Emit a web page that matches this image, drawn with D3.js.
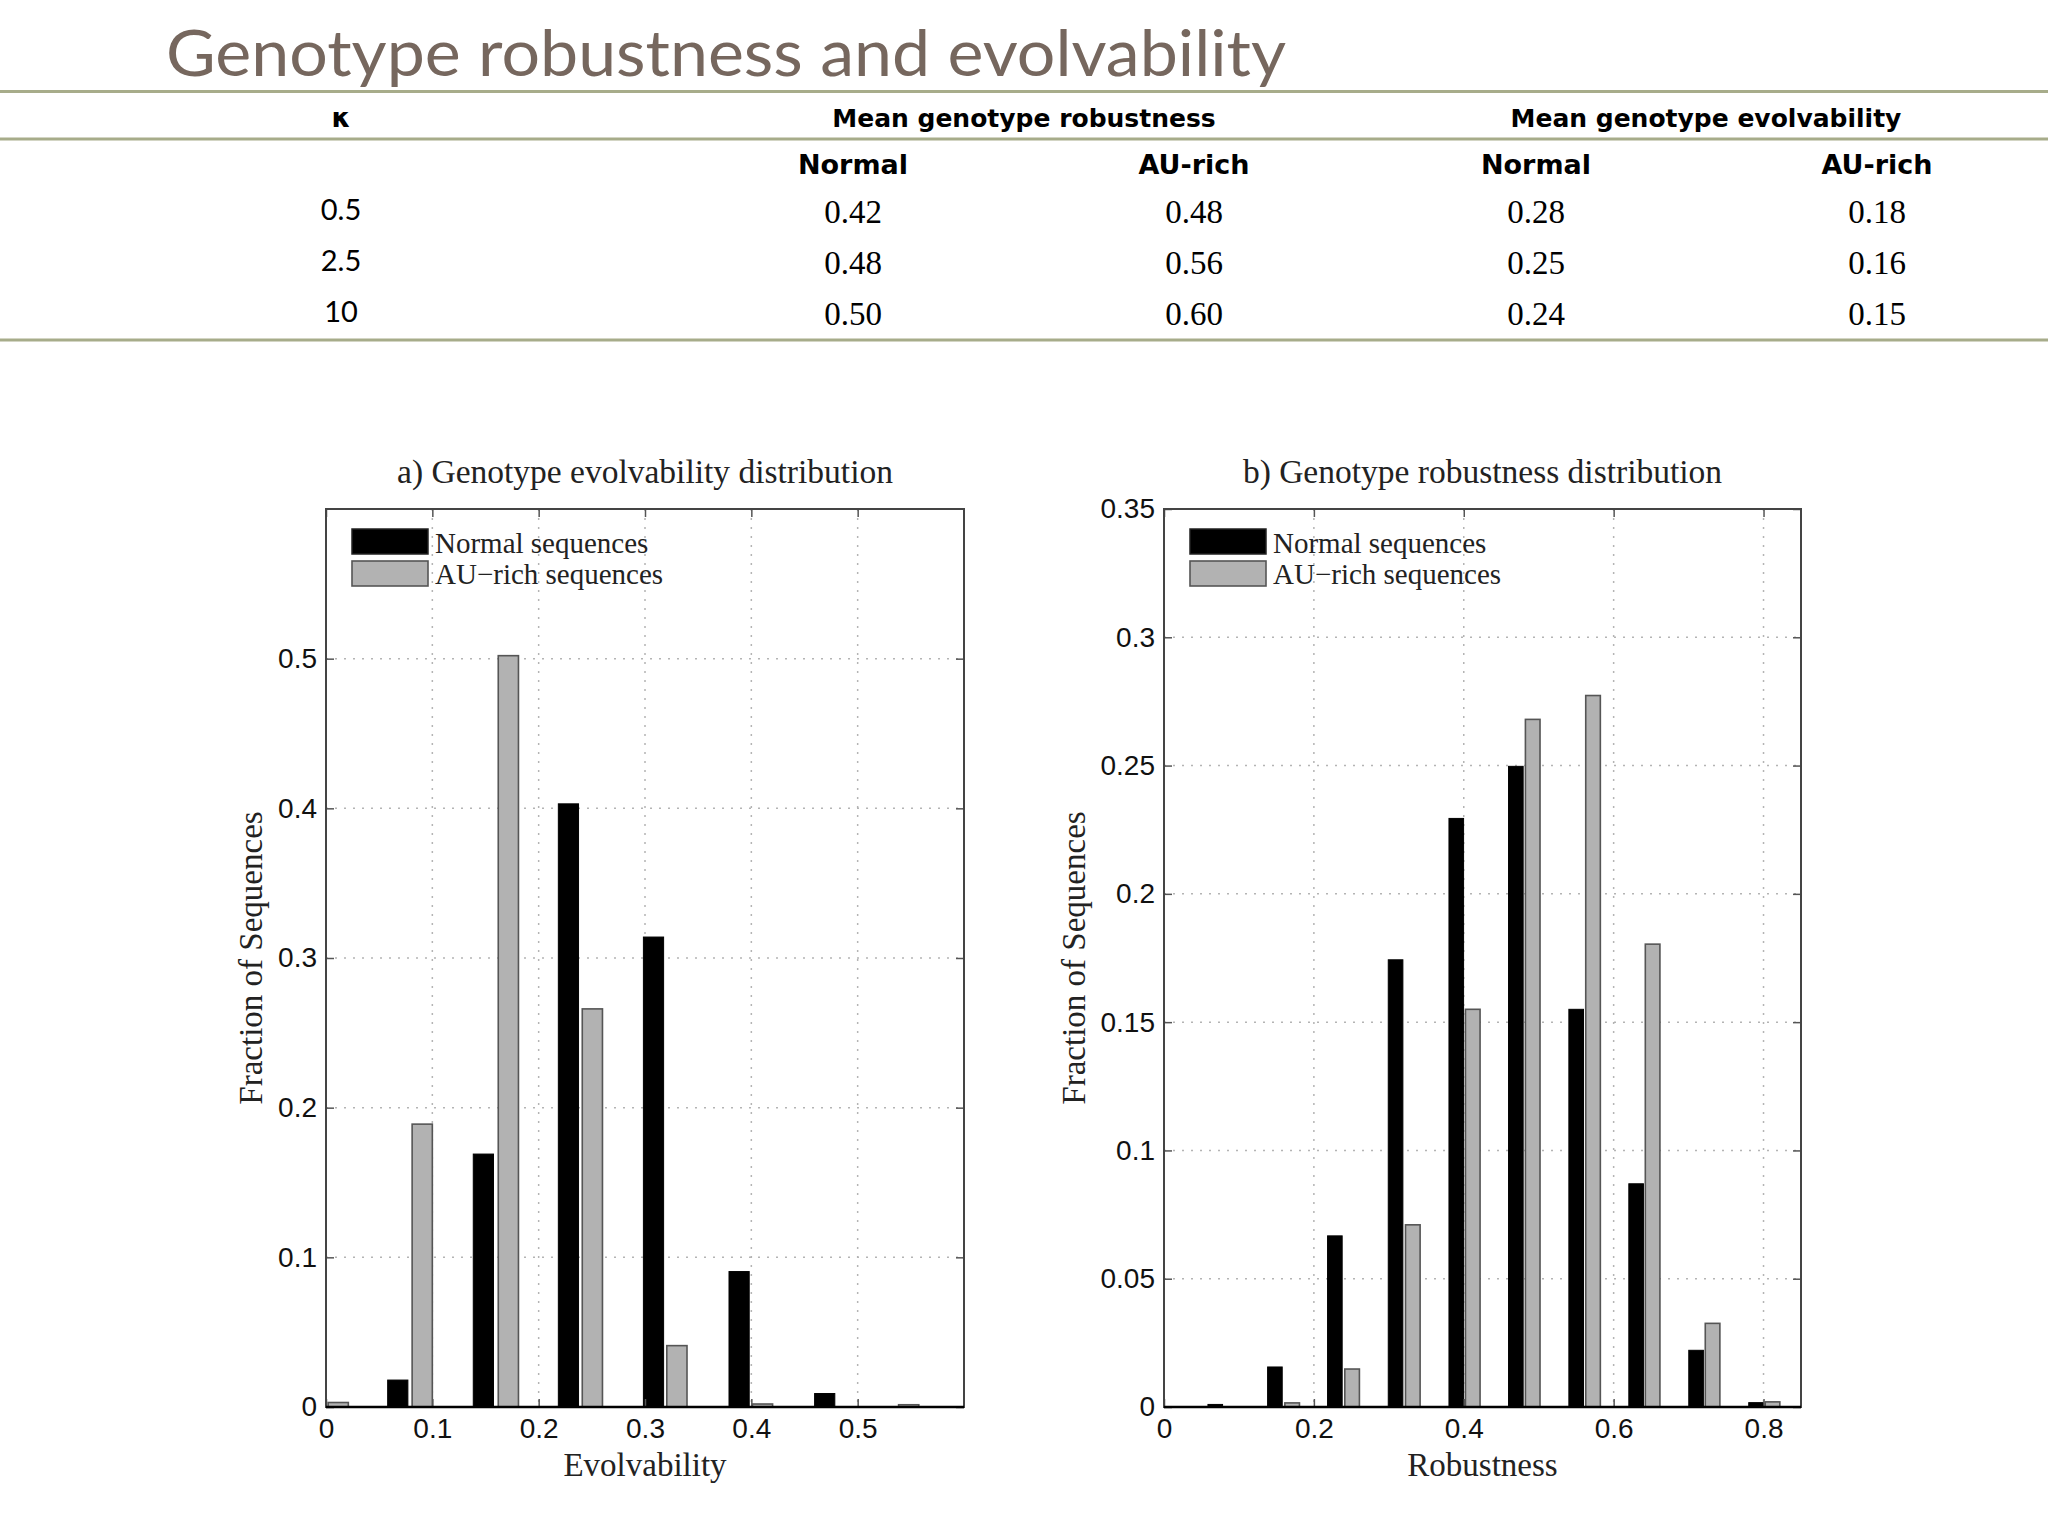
<!DOCTYPE html>
<html>
<head>
<meta charset="utf-8">
<script src="https://cdn.jsdelivr.net/npm/d3@7"></script>
<style>
  body { margin: 0; background: #fff; }
  svg { display: block; }
</style>
</head>
<body>
<svg id="canvas"></svg>
<script>
// table values
const kappa = ['0.5', '2.5', '10']
const robNormalMean = [0.42, 0.48, 0.50]
const robAuMean = [0.48, 0.56, 0.60]
const evoNormalMean = [0.28, 0.25, 0.24]
const evoAuMean = [0.18, 0.16, 0.15]

// a) evolvability histogram (bin centres read from the picture)
const evoNormalX = [0.0675, 0.148, 0.228, 0.308, 0.3885, 0.469]
const evoNormalY = [0.018, 0.169, 0.403, 0.314, 0.0905, 0.009]
const evoAuX = [0.0115, 0.0905, 0.1715, 0.2505, 0.330, 0.4105, 0.548]
const evoAuY = [0.003, 0.189, 0.502, 0.266, 0.041, 0.002, 0.0015]
const evoXTicks = [0, 0.1, 0.2, 0.3, 0.4, 0.5]
const evoYTicks = [0, 0.1, 0.2, 0.3, 0.4, 0.5]

// b) robustness histogram
const robNormalX = [0.0684, 0.148, 0.228, 0.309, 0.390, 0.4695, 0.550, 0.630, 0.710, 0.790]
const robNormalY = [0.001, 0.0156, 0.0667, 0.1743, 0.2294, 0.2497, 0.155, 0.087, 0.0221, 0.0017]
const robAuX = [0.171, 0.251, 0.332, 0.412, 0.492, 0.5725, 0.652, 0.732, 0.812]
const robAuY = [0.0016, 0.0148, 0.071, 0.155, 0.268, 0.2773, 0.1804, 0.0326, 0.002]
const robXTicks = [0, 0.2, 0.4, 0.6, 0.8]
const robYTicks = [0, 0.05, 0.1, 0.15, 0.2, 0.25, 0.3, 0.35]

const legendLabels = ['Normal sequences', 'AU\u2212rich sequences']

const width = 2048
const height = 1536

const svg = d3.select('#canvas').attr('width', width).attr('height', height)
svg.append('rect').attr('width', width).attr('height', height).attr('fill', '#fff')

// ---- slide title ----
svg.append('text')
    .attr('x', 166).attr('y', 76)
    .attr('font-family', 'Lato')
    .attr('font-size', 64)
    .attr('fill', '#76675e')
    .attr('textLength', 1120)
    .attr('lengthAdjust', 'spacingAndGlyphs')
    .text('Genotype robustness and evolvability')

// ---- table ----
const ruleColor = '#a7ac8a'
;[91.5, 139, 340].forEach(y => {
    svg.append('line')
        .attr('x1', 0).attr('x2', width)
        .attr('y1', y).attr('y2', y)
        .attr('stroke', ruleColor).attr('stroke-width', 3)
})

const colX = [341, 853, 1194, 1536, 1877]
const headFont = 'DejaVu Sans'

svg.append('text')
    .attr('x', colX[0]).attr('y', 127)
    .attr('text-anchor', 'middle')
    .attr('font-family', headFont).attr('font-weight', 'bold').attr('font-size', 27)
    .text('\u03ba')

const groups = [
    { label: 'Mean genotype robustness', x: 1024 },
    { label: 'Mean genotype evolvability', x: 1706 }
]
svg.selectAll('.grp')
    .data(groups)
    .enter()
    .append('text')
    .attr('class', 'grp')
    .attr('x', d => d.x).attr('y', 127)
    .attr('text-anchor', 'middle')
    .attr('font-family', headFont).attr('font-weight', 'bold').attr('font-size', 25)
    .text(d => d.label)

const subHeads = ['Normal', 'AU-rich', 'Normal', 'AU-rich']
svg.selectAll('.sub')
    .data(subHeads)
    .enter()
    .append('text')
    .attr('class', 'sub')
    .attr('x', (d, i) => colX[i + 1]).attr('y', 174)
    .attr('text-anchor', 'middle')
    .attr('font-family', headFont).attr('font-weight', 'bold').attr('font-size', 27)
    .text(d => d)

const rowY = [223, 274, 325]
const fmt2 = d3.format('.2f')
const cols = [robNormalMean, robAuMean, evoNormalMean, evoAuMean]

kappa.forEach((k, r) => {
    svg.append('text')
        .attr('x', colX[0]).attr('y', rowY[r] - 3)
        .attr('text-anchor', 'middle')
        .attr('font-family', 'Lato').attr('font-size', 29)
        .text(k)
    cols.forEach((col, c) => {
        svg.append('text')
            .attr('x', colX[c + 1]).attr('y', rowY[r])
            .attr('text-anchor', 'middle')
            .attr('font-family', 'Liberation Serif').attr('font-size', 33)
            .text(fmt2(col[r]))
    })
})

// ---- histograms ----
function drawHist(cfg) {
    const g = svg.append('g')
    const x = d3.scaleLinear().domain(cfg.xDomain).range([cfg.left, cfg.right])
    const y = d3.scaleLinear().domain(cfg.yDomain).range([cfg.bottom, cfg.top])
    const barW = x(cfg.barWidth) - x(0)

    // dotted grid
    g.selectAll('.gx')
        .data(cfg.xTicks.filter(t => t > cfg.xDomain[0]))
        .enter().append('line')
        .attr('x1', d => x(d)).attr('x2', d => x(d))
        .attr('y1', cfg.top).attr('y2', cfg.bottom)
        .attr('stroke', '#b4b4b4').attr('stroke-width', 1.5)
        .attr('stroke-dasharray', '2,7')
    g.selectAll('.gy')
        .data(cfg.yTicks.filter(t => t > cfg.yDomain[0] && t < cfg.yDomain[1]))
        .enter().append('line')
        .attr('x1', cfg.left).attr('x2', cfg.right)
        .attr('y1', d => y(d)).attr('y2', d => y(d))
        .attr('stroke', '#b4b4b4').attr('stroke-width', 1.5)
        .attr('stroke-dasharray', '2,7')

    // bars
    const normal = cfg.normalX.map((v, i) => ({ x: v, y: cfg.normalY[i] }))
    const au = cfg.auX.map((v, i) => ({ x: v, y: cfg.auY[i] }))

    g.selectAll('.bn')
        .data(normal)
        .enter().append('rect')
        .attr('x', d => x(d.x) - barW / 2)
        .attr('width', barW)
        .attr('y', d => y(d.y))
        .attr('height', d => y(0) - y(d.y))
        .attr('fill', '#000').attr('stroke', '#000').attr('stroke-width', 1)

    g.selectAll('.ba')
        .data(au)
        .enter().append('rect')
        .attr('x', d => x(d.x) - barW / 2)
        .attr('width', barW)
        .attr('y', d => y(d.y))
        .attr('height', d => y(0) - y(d.y))
        .attr('fill', '#b2b2b2').attr('stroke', '#555').attr('stroke-width', 1.6)

    // axes with inward ticks on all four sides
    const tickFont = 'Liberation Sans'
    const xFmt = d3.format('')
    g.append('g')
        .attr('transform', `translate(0,${cfg.bottom})`)
        .call(d3.axisBottom(x).tickValues(cfg.xTicks).tickSize(-8).tickPadding(11).tickFormat(d => xFmt(d)))
        .call(a => a.select('.domain').remove())
    g.append('g')
        .attr('transform', `translate(0,${cfg.top})`)
        .call(d3.axisTop(x).tickValues(cfg.xTicks).tickSize(-8).tickFormat(''))
        .call(a => a.select('.domain').remove())
    g.append('g')
        .attr('transform', `translate(${cfg.left},0)`)
        .call(d3.axisLeft(y).tickValues(cfg.yTicks).tickSize(-8).tickPadding(9).tickFormat(d => xFmt(d)))
        .call(a => a.select('.domain').remove())
    g.append('g')
        .attr('transform', `translate(${cfg.right},0)`)
        .call(d3.axisRight(y).tickValues(cfg.yTicks).tickSize(-8).tickFormat(''))
        .call(a => a.select('.domain').remove())

    g.selectAll('.tick line').attr('stroke', '#555').attr('stroke-width', 1.5)
    g.selectAll('.tick text')
        .attr('font-family', tickFont).attr('font-size', 28).attr('fill', '#111')

    // frame
    g.append('rect')
        .attr('x', cfg.left).attr('y', cfg.top)
        .attr('width', cfg.right - cfg.left).attr('height', cfg.bottom - cfg.top)
        .attr('fill', 'none').attr('stroke', '#444').attr('stroke-width', 2)
    g.append('line')
        .attr('x1', cfg.left).attr('x2', cfg.right)
        .attr('y1', cfg.bottom).attr('y2', cfg.bottom)
        .attr('stroke', '#000').attr('stroke-width', 2.5)

    // legend
    const lg = g.append('g').attr('transform', `translate(${cfg.left + 26},${cfg.top + 20})`)
    lg.append('rect').attr('x', 0).attr('y', 0).attr('width', 76).attr('height', 25)
        .attr('fill', '#000').attr('stroke', '#222').attr('stroke-width', 1.5)
    lg.append('rect').attr('x', 0).attr('y', 32).attr('width', 76).attr('height', 25)
        .attr('fill', '#b2b2b2').attr('stroke', '#555').attr('stroke-width', 1.6)
    lg.selectAll('.lt')
        .data(legendLabels)
        .enter().append('text')
        .attr('x', 83).attr('y', (d, i) => 24 + i * 31)
        .attr('font-family', 'Liberation Serif').attr('font-size', 29).attr('fill', '#222')
        .text(d => d)

    // titles
    const cx = (cfg.left + cfg.right) / 2
    g.append('text')
        .attr('x', cx).attr('y', cfg.top - 26)
        .attr('text-anchor', 'middle')
        .attr('font-family', 'Liberation Serif').attr('font-size', 33.5).attr('fill', '#222')
        .text(cfg.title)
    g.append('text')
        .attr('x', cx).attr('y', cfg.bottom + 69)
        .attr('text-anchor', 'middle')
        .attr('font-family', 'Liberation Serif').attr('font-size', 33).attr('fill', '#222')
        .text(cfg.xLabel)
    const cy = (cfg.top + cfg.bottom) / 2
    g.append('text')
        .attr('transform', `translate(${cfg.yLabelX},${cy}) rotate(-90)`)
        .attr('text-anchor', 'middle')
        .attr('font-family', 'Liberation Serif').attr('font-size', 33).attr('fill', '#222')
        .text('Fraction of Sequences')
}

drawHist({
    left: 326, right: 964, top: 509, bottom: 1407,
    xDomain: [0, 0.6], yDomain: [0, 0.6],
    xTicks: evoXTicks, yTicks: evoYTicks,
    barWidth: 0.019,
    normalX: evoNormalX, normalY: evoNormalY,
    auX: evoAuX, auY: evoAuY,
    title: 'a) Genotype evolvability distribution',
    xLabel: 'Evolvability',
    yLabelX: 262
})

drawHist({
    left: 1164, right: 1801, top: 509, bottom: 1407,
    xDomain: [0, 0.85], yDomain: [0, 0.35],
    xTicks: robXTicks, yTicks: robYTicks,
    barWidth: 0.0195,
    normalX: robNormalX, normalY: robNormalY,
    auX: robAuX, auY: robAuY,
    title: 'b) Genotype robustness distribution',
    xLabel: 'Robustness',
    yLabelX: 1085
})
</script>
</body>
</html>
